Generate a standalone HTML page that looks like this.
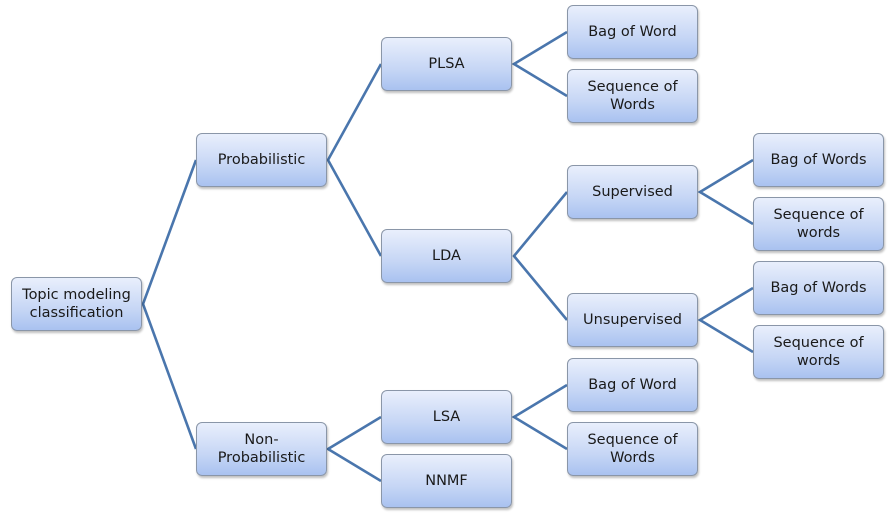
<!DOCTYPE html>
<html><head><meta charset="utf-8"><style>
html,body{margin:0;padding:0;background:#fff;}
#c{position:relative;width:893px;height:516px;overflow:hidden;font-family:"DejaVu Sans","Liberation Sans",sans-serif;}
svg{position:absolute;left:0;top:0;}
.b{position:absolute;width:131px;height:54px;box-sizing:border-box;border:1px solid #8a96a8;border-radius:6px;
background:linear-gradient(#e9effc,#c6d6f5 60%,#a9c2f0);box-shadow:1px 2px 2px rgba(0,0,0,0.25);
display:flex;align-items:center;justify-content:center;text-align:center;font-size:14.5px;line-height:18px;color:#1a1a1a;}
</style></head><body><div id="c">
<svg width="893" height="516"><g stroke="#4a76ad" stroke-width="2.6" fill="none">
<polyline points="196,160 143,304 196,449"/>
<polyline points="381,64 328,160 381,256"/>
<polyline points="381,417 328,449 381,481"/>
<polyline points="567,32 514,64 567,96"/>
<polyline points="567,192 514,256 567,320"/>
<polyline points="567,385 514,417 567,449"/>
<polyline points="753,160 700,192 753,224"/>
<polyline points="753,288 700,320 753,352"/>
</g></svg>
<div class="b" style="left:11px;top:277px">Topic modeling<br>classification</div>
<div class="b" style="left:196px;top:133px">Probabilistic</div>
<div class="b" style="left:196px;top:422px">Non-<br>Probabilistic</div>
<div class="b" style="left:381px;top:37px">PLSA</div>
<div class="b" style="left:381px;top:229px">LDA</div>
<div class="b" style="left:381px;top:390px">LSA</div>
<div class="b" style="left:381px;top:454px">NNMF</div>
<div class="b" style="left:567px;top:5px">Bag of Word</div>
<div class="b" style="left:567px;top:69px">Sequence of<br>Words</div>
<div class="b" style="left:567px;top:165px">Supervised</div>
<div class="b" style="left:567px;top:293px">Unsupervised</div>
<div class="b" style="left:567px;top:358px">Bag of Word</div>
<div class="b" style="left:567px;top:422px">Sequence of<br>Words</div>
<div class="b" style="left:753px;top:133px">Bag of Words</div>
<div class="b" style="left:753px;top:197px">Sequence of<br>words</div>
<div class="b" style="left:753px;top:261px">Bag of Words</div>
<div class="b" style="left:753px;top:325px">Sequence of<br>words</div>
</div></body></html>
